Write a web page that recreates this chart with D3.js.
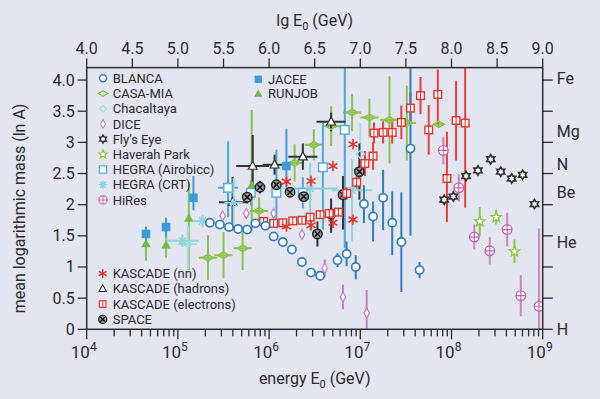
<!DOCTYPE html>
<html><head><meta charset="utf-8">
<script src="https://cdn.jsdelivr.net/npm/d3@7"></script>
<style>
html,body{margin:0;padding:0;background:#e3e5f1;}
svg{display:block;font-family:"Roboto","Liberation Sans",sans-serif;}
</style></head><body>
<script>
// ---------------- DATA (lg E0 [GeV], ln A, err-, err+, [x-err in lg E]) ----------------
const blanca = [[5.35,1.71,0.03,0.03],[5.46,1.68,0.03,0.03],[5.56,1.64,0.03,0.03],[5.66,1.61,0.03,0.03],[5.76,1.60,0.03,0.03],[5.85,1.70,0.03,0.03],[5.96,1.66,0.03,0.03],[6.05,1.49,0.05,0.05],[6.15,1.40,0.05,0.05],[6.25,1.28,0.06,0.06],[6.36,1.08,0.06,0.06],[6.46,0.91,0.06,0.06],[6.56,0.86,0.06,0.06],[6.75,1.11,0.11,0.11],[6.85,1.21,0.2,0.2],[6.95,1.00,0.2,0.19],[7.04,2.01,0.31,0.3],[7.14,1.81,0.4,0.24],[7.25,2.11,0.52,0.45],[7.35,1.71,0.52,0.5],[7.45,1.40,0.8,0.8],[7.55,2.90,1.4,1.3],[7.65,0.95,0.13,0.13]];
const casaMia = [[5.33,1.15,0.36,0.36,0.1],[5.50,1.19,0.37,0.37,0.1],[5.71,1.30,0.35,0.27,0.1],[5.89,1.90,0.22,0.22,0.1],[6.28,2.67,0.3,0.3,0.1],[6.49,2.96,0.25,0.25,0.1],[6.68,3.26,0.32,0.32,0.1],[6.91,3.48,0.3,0.3,0.1],[7.10,3.40,0.3,0.3,0.1],[7.32,3.36,0.7,0.7,0.1],[7.51,3.31,0.6,0.6,0.1],[7.86,3.29,0.05,0.05,0.05]];
const chacaltaya = [[5.11,1.37,0.4,0.3,0.1],[7.00,2.81,0.6,0.5,0]];
const dice = [[5.49,1.82,0.05,0.05],[5.75,1.86,0.05,0.05],[6.05,1.86,0.05,0.05],[6.36,1.52,0.05,0.05],[6.61,0.98,0.14,0.14],[6.81,0.52,0.2,0.2],[7.07,0.26,0.26,0.37]];
const flysEye = [[7.92,2.08],[8.02,2.13],[8.16,2.46],[8.29,2.55],[8.43,2.73],[8.54,2.53],[8.66,2.42],[8.78,2.48],[8.91,2.01]];
const haverahPark = [[8.31,1.73,0.23,0.23],[8.49,1.80,0.12,0.12],[8.69,1.25,0.19,0.19]];
const hegraAirobicc = [[5.55,2.27,0.47,0.75,0.11],[5.80,2.19,0.2,0.2,0],[6.08,2.19,0.43,0.69,0],[6.37,2.19,0.25,0.25,0],[6.59,2.60,1.0,0.71,0],[6.83,3.20,1.9,1.0,0]];
const hegraCRT = [[5.05,1.42,0.1,0.1,0.18],[5.27,1.74,0.1,0.1,0.1],[5.61,2.03,0.45,0.4,0.1],[6.45,2.26,0.67,0.41,0.3],[6.91,2.23,0.82,0.5,0.22]];
const hiRes = [[7.91,2.87,0.22,0.22],[8.08,2.27,0.22,0.22],[8.25,1.48,0.2,0.2],[8.42,1.26,0.22,0.22],[8.61,1.60,0.27,0.27],[8.76,0.54,0.33,0.33],[8.96,0.37,0.37,1.25]];
const jacee = [[4.65,1.53,0.12,0.12],[4.87,1.64,0.15,0.15],[5.17,2.11,0.2,0.35],[6.19,2.62,0.4,0.6]];
const runjob = [[4.65,1.37,0.27,0.27],[4.87,1.35,0.2,0.2],[5.12,1.78,0.83,0.57],[5.81,2.31,0.72,1.21]];
const kascadeNN = [[6.19,2.37],[6.46,2.38],[6.70,2.62],[6.92,2.97],[6.19,1.65],[6.46,1.67],[6.70,1.71],[6.92,1.76]];
const kascadeHadrons = [[5.60,2.04,0.45,0.41,0.15],[5.82,2.62,0.3,0.5,0.18],[6.06,2.64,0.16,0.16,0.13],[6.37,2.77,0.21,0.21,0.16],[6.68,3.33,0.15,0.15,0.16]];
const kascadeElectrons = [[5.94,1.73,0.04,0.04],[6.05,1.70,0.04,0.04],[6.15,1.71,0.04,0.04],[6.26,1.74,0.04,0.04],[6.36,1.75,0.04,0.04],[6.45,1.80,0.05,0.05],[6.56,1.84,0.05,0.05],[6.66,1.86,0.05,0.05],[6.76,1.88,0.06,0.06],[6.85,2.18,0.1,0.1],[6.96,2.36,0.1,0.1],[7.05,2.66,0.2,0.2],[7.14,2.78,0.22,0.22],[7.15,3.15,0.17,0.17],[7.25,3.16,0.18,0.18],[7.35,3.16,0.18,0.18],[7.45,3.32,0.27,0.27],[7.55,3.55,0.25,0.25],[7.66,3.75,0.3,0.3],[7.75,3.20,0.4,0.4],[7.85,3.77,0.47,0.4],[7.95,2.42,0.7,0.75],[8.05,3.35,0.64,0.64],[8.15,3.31,1.36,0.9]];
const space = [[5.76,2.12,0.1,0.1],[5.90,2.28,0.1,0.1],[6.08,2.32,0.08,0.08],[6.23,2.20,0.08,0.08],[6.38,2.13,0.08,0.08],[6.53,1.53,0.2,0.2],[6.68,1.85,0.3,0.25],[6.81,2.16,0.56,0.3],[6.99,2.53,0.45,0.45]];

const topTicks = [4.0,4.5,5.0,5.5,6.0,6.5,7.0,7.5,8.0,8.5,9.0];
const leftTicks = [0,0.5,1,1.5,2,2.5,3,3.5,4];
const leftLabels = ["0","0.5","1","1.5","2","2.5","3","3.5","4.0"];
const elements = ["H","He","Be","N","Mg","Fe"];
const elementMass = [1,4,9,14,24,56];

// ---------------- LAYOUT ----------------
const W=600,H=399;
const X0=86.7,X1=542.7,Y0=329.3,Y1=67.6;
const x = d3.scaleLinear().domain([4,9]).range([X0,X1]);
const xE = d3.scaleLog().domain([1e4,1e9]).range([X0,X1]);
const y = d3.scaleLinear().domain([0,4.2]).range([Y0,Y1]);
const BG="#e3e5f1", INK="#2b2b2b";

const svg = d3.select("body").append("svg").attr("width",W).attr("height",H);
svg.append("rect").attr("width",W).attr("height",H).attr("fill",BG);
svg.append("clipPath").attr("id","clip").append("rect").attr("x",X0).attr("y",Y1).attr("width",X1-X0).attr("height",Y0-Y1);

// ---------------- MARKERS ----------------
function starPath(n,ro,ri,rot){
  const pts=[];for(let i=0;i<2*n;i++){const r=i%2?ri:ro;const a=rot+i*Math.PI/n;pts.push([r*Math.sin(a),-r*Math.cos(a)]);}
  return "M"+pts.map(p=>p[0].toFixed(2)+","+p[1].toFixed(2)).join("L")+"Z";
}
function asterisk(n,r){let d="";for(let i=0;i<n;i++){const a=i*Math.PI/n;d+=`M${(r*Math.sin(a)).toFixed(2)},${(-r*Math.cos(a)).toFixed(2)}L${(-r*Math.sin(a)).toFixed(2)},${(r*Math.cos(a)).toFixed(2)}`;}return d;}
const markers = {
  blanca:g=>g.append("circle").attr("r",4.1).attr("fill","#fff").attr("stroke","#2f7dc3").attr("stroke-width",1.7),
  casaMia:g=>g.append("path").attr("d","M-5.5,0L0,-3.2L5.5,0L0,3.2Z").attr("fill","none").attr("stroke","#8bc34a").attr("stroke-width",1.5),
  chacaltaya:g=>g.append("path").attr("d","M-4,0L0,-4L4,0L0,4Z").attr("fill","none").attr("stroke","#a3dbe0").attr("stroke-width",1.5),
  dice:g=>g.append("path").attr("d","M-2.8,0L0,-5L2.8,0L0,5Z").attr("fill","#fff").attr("stroke","#c87ec6").attr("stroke-width",1.2),
  flysEye:g=>g.append("path").attr("d",starPath(6,4.6,2.7,0)).attr("fill","#fff").attr("stroke","#333").attr("stroke-width",1.7),
  haverahPark:g=>g.append("path").attr("d",starPath(5,5.4,2.3,0)).attr("fill","#fff").attr("stroke","#8cc63f").attr("stroke-width",1.3),
  hegraAirobicc:g=>g.append("rect").attr("x",-4.3).attr("y",-4.3).attr("width",8.6).attr("height",8.6).attr("fill","#fff").attr("stroke","#5aaee0").attr("stroke-width",1.5),
  hegraCRT:g=>g.append("path").attr("d",asterisk(4,5)).attr("stroke","#8fd4d8").attr("stroke-width",1.5),
  hiRes:g=>{g.append("circle").attr("r",4.8).attr("fill","#fff").attr("stroke","#c764b0").attr("stroke-width",1.4);
            g.append("path").attr("d","M-4.8,0H4.8M0,-4.8V4.8").attr("stroke","#c764b0").attr("stroke-width",1.2);},
  jacee:g=>g.append("rect").attr("x",-4.3).attr("y",-4.3).attr("width",8.6).attr("height",8.6).attr("fill","#3d9bd8"),
  runjob:g=>g.append("path").attr("d","M0,-5L4.8,3.4L-4.8,3.4Z").attr("fill","#74b944"),
  kascadeNN:g=>g.append("path").attr("d",asterisk(3,5.2)).attr("stroke","#e8322b").attr("stroke-width",1.6),
  kascadeHadrons:g=>g.append("path").attr("d","M0,-4.8L4.4,3.2L-4.4,3.2Z").attr("fill","#fff").attr("stroke","#333").attr("stroke-width",1.2),
  kascadeElectrons:g=>{g.append("rect").attr("x",-3.8).attr("y",-3.8).attr("width",7.6).attr("height",7.6).attr("fill","#fff").attr("stroke","#e8322b").attr("stroke-width",1.4);
            g.append("path").attr("d","M0,-3.8V3.8").attr("stroke","#e8322b").attr("stroke-width",1.1);},
  space:g=>{g.append("circle").attr("r",4.7).attr("fill","#a0a0a0").attr("stroke","#222").attr("stroke-width",1.5);
            g.append("path").attr("d","M-2.8,-2.8L2.8,2.8M-2.8,2.8L2.8,-2.8").attr("stroke","#111").attr("stroke-width",1.5);}
};
const series = [
  {key:"casaMia",data:casaMia,bar:"#8bc34a"},
  {key:"runjob",data:runjob,bar:"#86c057"},
  {key:"chacaltaya",data:chacaltaya,bar:"#a3dbe0"},
  {key:"hegraAirobicc",data:hegraAirobicc,bar:"#4fa6dc"},
  {key:"jacee",data:jacee,bar:"#3d9bd8"},
  {key:"kascadeHadrons",data:kascadeHadrons,bar:"#333"},
  {key:"space",data:space,bar:"#333"},
  {key:"hegraCRT",data:hegraCRT,bar:"#8fd4d8"},
  {key:"dice",data:dice,bar:"#c87ec6"},
  {key:"kascadeElectrons",data:kascadeElectrons,bar:"#e8413c"},
  {key:"blanca",data:blanca,bar:"#2f7dc3"},
  {key:"kascadeNN",data:kascadeNN,bar:"#e8322b"},
  {key:"flysEye",data:flysEye,bar:"#333"},
  {key:"haverahPark",data:haverahPark,bar:"#8cc63f"},
  {key:"hiRes",data:hiRes,bar:"#cf86bf"}
];

const plot = svg.append("g").attr("clip-path","url(#clip)");
const bars = plot.append("g"), marks = plot.append("g");
series.forEach(s=>{
  s.data.forEach(d=>{
    if(d.length>2 && (d[2]>0||d[3]>0)){
      bars.append("line").attr("x1",x(d[0])).attr("x2",x(d[0])).attr("y1",y(d[1]-d[2])).attr("y2",y(d[1]+d[3]))
        .attr("stroke",s.bar).attr("stroke-width",2);
    }
    if(d.length>4 && d[4]>0){
      bars.append("line").attr("x1",x(d[0]-d[4])).attr("x2",x(d[0]+d[4])).attr("y1",y(d[1])).attr("y2",y(d[1]))
        .attr("stroke",s.bar).attr("stroke-width",2);
    }
  });
});
series.forEach(s=>{
  s.data.forEach(d=>{
    const g = marks.append("g").attr("transform",`translate(${x(d[0])},${y(d[1])})`);
    markers[s.key](g);
  });
});

// ---------------- AXES ----------------
svg.append("rect").attr("x",X0).attr("y",Y1).attr("width",X1-X0).attr("height",Y0-Y1).attr("fill","none").attr("stroke",INK).attr("stroke-width",1.5);

// bottom (log)
const bt=[];for(let p=4;p<=9;p++){for(let m=1;m<=9;m++){const v=m*Math.pow(10,p);if(v<=1e9)bt.push(v);}}
const gB = svg.append("g").attr("transform",`translate(0,${Y0})`);
gB.selectAll("line").data(bt).join("line").attr("x1",d=>xE(d)).attr("x2",d=>xE(d)).attr("y1",0)
  .attr("y2",d=>Math.abs(Math.log10(d)%1)<1e-9?10:7).attr("stroke",INK).attr("stroke-width",1.3);
const decs=[1e4,1e5,1e6,1e7,1e8,1e9];
const bl = gB.selectAll("text").data(decs).join("text").attr("x",d=>xE(d)-3).attr("y",29).attr("text-anchor","middle")
  .attr("font-size",17).attr("fill",INK);
bl.append("tspan").text("10");
bl.append("tspan").attr("dy",-7).attr("font-size",12).text(d=>Math.round(Math.log10(d)));
svg.append("text").attr("x",(X0+X1)/2).attr("y",384).attr("text-anchor","middle").attr("font-size",16).attr("fill",INK)
  .call(t=>{t.append("tspan").text("energy E");t.append("tspan").attr("dy",4).attr("font-size",11).text("0");t.append("tspan").attr("dy",-4).text(" (GeV)");});

// top (lg E)
const gT = svg.append("g").attr("transform",`translate(0,${Y1})`);
gT.selectAll("line").data(topTicks).join("line").attr("x1",d=>x(d)).attr("x2",d=>x(d)).attr("y1",0).attr("y2",-9).attr("stroke",INK).attr("stroke-width",1.3);
gT.selectAll("text").data(topTicks).join("text").attr("x",d=>x(d)).attr("y",-14).attr("text-anchor","middle").attr("font-size",16).attr("fill",INK).text(d3.format(".1f"));
svg.append("text").attr("x",(X0+X1)/2).attr("y",26).attr("text-anchor","middle").attr("font-size",16).attr("fill",INK)
  .call(t=>{t.append("tspan").text("lg E");t.append("tspan").attr("dy",4).attr("font-size",11).text("0");t.append("tspan").attr("dy",-4).text(" (GeV)");});

// left
const gL = svg.append("g").attr("transform",`translate(${X0},0)`);
gL.selectAll("line").data(leftTicks).join("line").attr("x1",0).attr("x2",-9).attr("y1",d=>y(d)).attr("y2",d=>y(d)).attr("stroke",INK).attr("stroke-width",1.3);
gL.selectAll("text").data(leftTicks).join("text").attr("x",-12).attr("y",d=>y(d)+5.5).attr("text-anchor","end").attr("font-size",16).attr("fill",INK).text((d,i)=>leftLabels[i]);
svg.append("text").attr("transform",`translate(25,${(Y0+Y1)/2+10}) rotate(-90)`).attr("text-anchor","middle").attr("font-size",16).attr("fill",INK)
  .text("mean logarithmic mass (ln A)");

// right
const gR = svg.append("g").attr("transform",`translate(${X1},0)`);
gR.selectAll("line").data(leftTicks).join("line").attr("x1",0).attr("x2",10).attr("y1",d=>y(d)).attr("y2",d=>y(d)).attr("stroke",INK).attr("stroke-width",1.3);
gR.selectAll("text").data(elements).join("text").attr("x",14).attr("y",(d,i)=>y(Math.log(elementMass[i]))+5.5).attr("font-size",16).attr("fill",INK).text(d=>d);

// ---------------- LEGENDS ----------------
function legend(items,mx,tx,y0,step){
  items.forEach((it,i)=>{
    const yy=y0+i*step;
    const g=svg.append("g").attr("transform",`translate(${mx},${yy}) scale(0.85)`);
    markers[it[0]](g);
    svg.append("text").attr("x",tx).attr("y",yy+4.6).attr("font-size",13).attr("fill",INK).text(it[1]);
  });
}
legend([["blanca","BLANCA"],["casaMia","CASA-MIA"],["chacaltaya","Chacaltaya"],["dice","DICE"],["flysEye","Fly’s Eye"],
        ["haverahPark","Haverah Park"],["hegraAirobicc","HEGRA (Airobicc)"],["hegraCRT","HEGRA (CRT)"],["hiRes","HiRes"]],103,112.7,78.3,15.2);
legend([["jacee","JACEE"],["runjob","RUNJOB"]],258.3,268,79.3,14.5);
legend([["kascadeNN","KASCADE (nn)"],["kascadeHadrons","KASCADE (hadrons)"],["kascadeElectrons","KASCADE (electrons)"],["space","SPACE"]],102.7,112.7,273.5,15.3);
</script>
</body></html>
